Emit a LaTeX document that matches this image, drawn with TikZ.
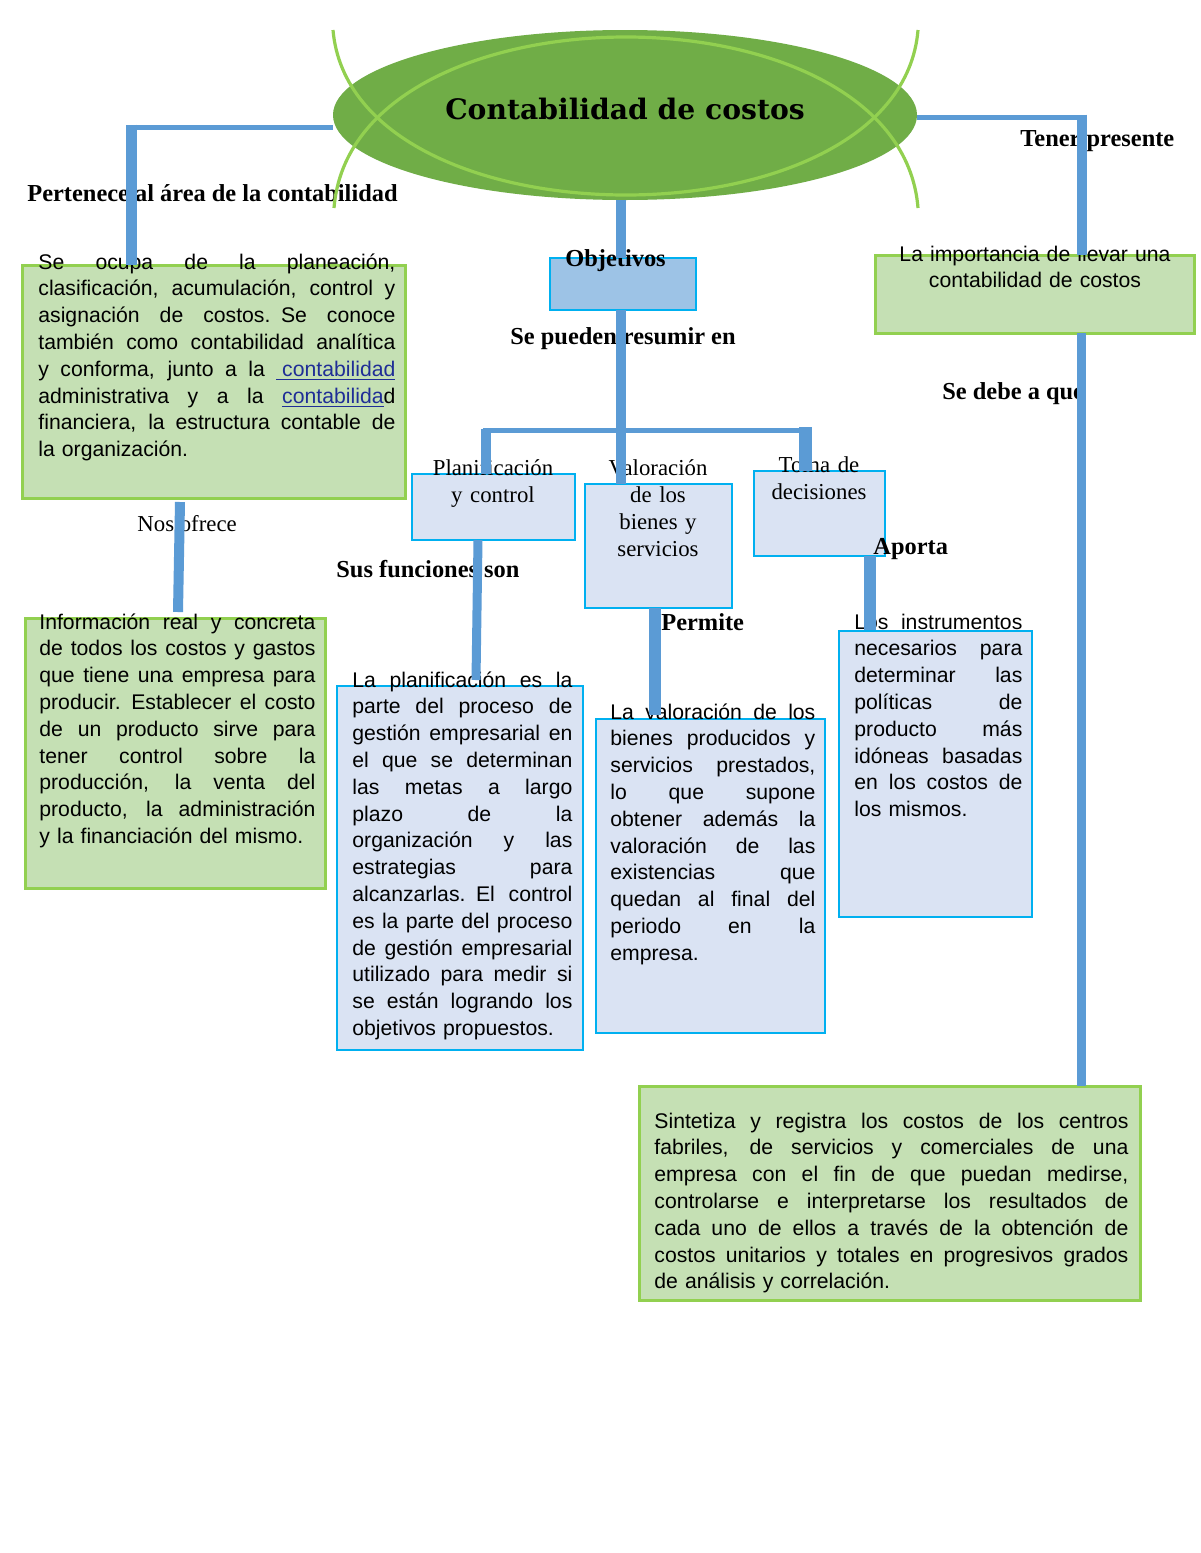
\documentclass[tikz,border=0pt]{standalone}
\usepackage{fontspec}
\setmainfont{Liberation Serif}
\newfontfamily\bodyf{Liberation Sans}
\newfontfamily\titlef{DejaVu Serif}
\usetikzlibrary{shapes.geometric}
\definecolor{cblue}{HTML}{5B9BD5}
\definecolor{egreen}{HTML}{70AD47}
\definecolor{agreen}{HTML}{92D050}
\definecolor{gfill}{HTML}{C5E0B4}
\definecolor{gborder}{HTML}{92D050}
\definecolor{bfill}{HTML}{DAE3F3}
\definecolor{bborder}{HTML}{00B0F0}
\definecolor{ofill}{HTML}{9DC3E6}
\definecolor{linkc}{RGB}{31,45,150}
\hbadness=10000 \hfuzz=200pt
\newlength\jlw
\newcommand\JL[1]{\leavevmode\hbox to \jlw{\spaceskip=0.28em plus 10em\relax #1}}
\newcommand\bodyfont{\bodyf\fontsize{10.6pt}{13.4pt}\selectfont}
\newcommand\lblfont{\fontsize{12.2pt}{14pt}\selectfont\bfseries}
\newcommand\boxlblfont{\fontsize{11.4pt}{13.5pt}\selectfont}
\tikzset{
  gbox/.style={draw=gborder, fill=gfill, line width=1.5pt, inner sep=0pt, outer sep=0pt, anchor=north west},
  bbox/.style={draw=bborder, fill=bfill, line width=1.2pt, inner sep=0pt, outer sep=0pt, anchor=north west},
  body/.style={font=\bodyfont\setlength\jlw{#1}, text width=#1, align=left, inner sep=0pt, anchor=base west},
  lbl/.style={font=\lblfont, inner sep=0pt, anchor=base west},
  blbl/.style={font=\boxlblfont, text width=#1, align=center, inner sep=0pt, anchor=base},
  conn/.style={draw=cblue, line width=#1},
  arcg/.style={draw=agreen, line width=1.6pt}
}
\begin{document}
\begin{tikzpicture}[x=0.5pt, y=-0.5pt]
\useasboundingbox (0,0) rectangle (1200,1553);
\fill[white] (0,0) rectangle (1200,1553);

% boxes
\node[gbox, minimum width=191.5pt, minimum height=116.5pt] (b1) at (22,265) {};
\node[gbox, minimum width=150pt, minimum height=135pt] (info) at (25,618) {};
\node[bbox, minimum width=123pt, minimum height=182pt] (pbody) at (337,686) {};
\node[bbox, minimum width=114.5pt, minimum height=157pt] (vbody) at (596,719) {};
\node[bbox, minimum width=96.5pt, minimum height=143pt] (instr) at (839,631) {};
\node[gbox, minimum width=159.5pt, minimum height=39pt] (imp) at (875,255) {};
\node[gbox, minimum width=250.5pt, minimum height=107pt] (sint) at (639,1086) {};
\node[bbox, fill=ofill, minimum width=73pt, minimum height=26pt] (obj) at (550,258) {};
\node[bbox, minimum width=81.5pt, minimum height=33pt] (plan) at (412,474) {};
\node[bbox, minimum width=73.5pt, minimum height=62pt] (val) at (585,484) {};
\node[bbox, minimum width=65.5pt, minimum height=42.5pt] (toma) at (754,471) {};

% body texts
\node[body=178.5pt] (t1) at (38,269) {\JL{Se ocupa de la planeación,}\\
\JL{clasificación, acumulación, control y}\\
\JL{asignación de costos. Se conoce}\\
\JL{también como contabilidad analítica}\\
\JL{y conforma, junto a la {\color{linkc}\underline{\hspace{0.28em}contabilidad}}}\\
\JL{administrativa y a la {\color{linkc}\underline{contabilida}}d}\\
\JL{financiera, la estructura contable de}\\
la organización.};

\node[body=138pt] (tinfo) at (39,629) {\JL{Información real y concreta}\\
\JL{de todos los costos y gastos}\\
\JL{que tiene una empresa para}\\
\JL{producir. Establecer el costo}\\
\JL{de un producto sirve para}\\
\JL{tener control sobre la}\\
\JL{producción, la venta del}\\
\JL{producto, la administración}\\
y la financiación del mismo.};

\node[body=110pt] (tplan) at (352,687) {\JL{La planificación es la}\\
\JL{parte del proceso de}\\
\JL{gestión empresarial en}\\
\JL{el que se determinan}\\
\JL{las metas a largo}\\
\JL{plazo de la}\\
\JL{organización y las}\\
\JL{estrategias para}\\
\JL{alcanzarlas. El control}\\
\JL{es la parte del proceso}\\
\JL{de gestión empresarial}\\
\JL{utilizado para medir si}\\
\JL{se están logrando los}\\
objetivos propuestos.};

\node[body=102.5pt] (tval) at (610,719) {\JL{La valoración de los}\\
\JL{bienes producidos y}\\
\JL{servicios prestados,}\\
\JL{lo que supone}\\
\JL{obtener además la}\\
\JL{valoración de las}\\
\JL{existencias que}\\
\JL{quedan al final del}\\
\JL{periodo en la}\\
empresa.};

\node[body=84pt] (tinstr) at (854,629) {\JL{Los instrumentos}\\
\JL{necesarios para}\\
\JL{determinar las}\\
\JL{políticas de}\\
\JL{producto más}\\
\JL{idóneas basadas}\\
\JL{en los costos de}\\
los mismos.};

\node[body=237pt] (tsint) at (654,1128) {\JL{Sintetiza y registra los costos de los centros}\\
\JL{fabriles, de servicios y comerciales de una}\\
\JL{empresa con el fin de que puedan medirse,}\\
\JL{controlarse e interpretarse los resultados de}\\
\JL{cada uno de ellos a través de la obtención de}\\
\JL{costos unitarios y totales en progresivos grados}\\
de análisis y correlación.};

\node[font=\bodyfont, text width=159.5pt, align=center, inner sep=0pt, anchor=base] (timp) at (1035,261) {La importancia de llevar una\\contabilidad de costos};

% box labels
\node[blbl=80pt] (lplan) at (493,475) {Planificación\\y control};
\node[blbl=72pt] (lval) at (658,475) {Valoración\\de los\\bienes y\\servicios};
\node[blbl=64pt] (ltoma) at (819,472) {Toma de\\decisiones};

% labels
\node[lbl] (l1) at (27,201) {Pertenece al área de la contabilidad};
\node[lbl] (l2) at (1020,146) {Tener presente};
\node[lbl] (l3) at (565,266) {Objetivos};
\node[lbl] (l4) at (510,344) {Se pueden resumir en};
\node[lbl] (l5) at (942,399) {Se debe a que};
\node[lbl] (l6) at (336,577) {Sus funciones son};
\node[lbl] (l7) at (661,630) {Permite};
\node[lbl] (l8) at (873,554) {Aporta};
\node[font=\boxlblfont, inner sep=0pt, anchor=base west] (l9) at (137,531) {Nos ofrece};

% ellipse
\node[ellipse, fill=egreen, minimum width=292pt, minimum height=85pt, inner sep=0pt] (title) at (625,115) {};

% connectors
\coordinate (lc) at (131,127);
\coordinate (rc) at (1082,117);
\coordinate (hl) at (483,430);
\coordinate (hr) at (808,430);
\draw[conn=2.5pt] (title.west |- lc) -- ([xshift=-1.5pt]lc);
\draw[conn=5.5pt] ([yshift=1.2pt]lc) -- (lc |- b1.north);
\draw[conn=2.5pt] (title.east |- rc) -- ([xshift=2pt]rc);
\draw[conn=5pt] ([yshift=1.2pt]rc) -- (rc |- imp.north);
\draw[conn=4.5pt] (1081,0 |- imp.south) -- (1081,0 |- sint.north);
\draw[conn=5pt] (621,0 |- title.south) -- (621,0 |- obj.north);
\draw[conn=5pt] (621,0 |- obj.south) -- (621,0 |- val.north);
\draw[conn=2.5pt] (hl) -- (hr);
\draw[conn=5pt] (486,429) -- (486,0 |- plan.north);
\draw[conn=6.5pt] (805,427) -- (805,0 |- toma.north);
\draw[conn=4.5pt] (478,0 |- plan.south) -- (476,680);
\draw[conn=6pt] (655,0 |- val.south) -- (655,715);
\draw[conn=6pt] (870,0 |- toma.south) -- (870,630);
\draw[conn=5pt] (180,502) -- (178,612);

% title text and arcs
\node[font=\titlef\bfseries\fontsize{14.1pt}{16pt}\selectfont, inner sep=0pt, anchor=base] (ttext) at (625,119) {Contabilidad de costos};
\draw[arcg] (334,208) .. controls (352,-20) and (900,-20) .. (918,208);
\draw[arcg] (333,30) .. controls (352,250) and (900,250) .. (918,30);
\end{tikzpicture}
\end{document}
